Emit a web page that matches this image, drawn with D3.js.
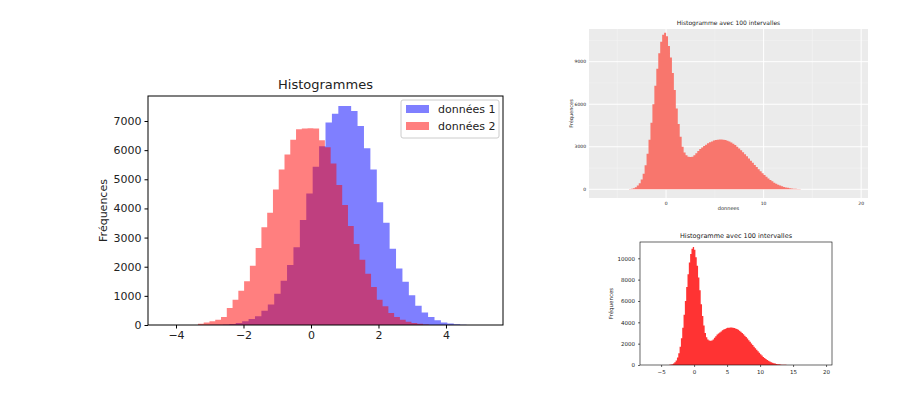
<!DOCTYPE html>
<html>
<head>
<meta charset="utf-8">
<script src="https://cdn.jsdelivr.net/npm/d3@7"></script>
<style>
  body { margin: 0; background: #fff; }
  text { font-family: "DejaVu Sans", sans-serif; fill: #222; }
</style>
</head>
<body>
<div id="chart"></div>
<script>
// Main chart: two overlapping histograms (40 bins each)
const data1Start = -2.99;
const data1Width = 0.19;
const data1Counts = [5, 10, 20, 35, 70, 125, 205, 300, 490, 705,
                     1070, 1515, 2060, 2670, 3600, 4515, 5430, 6130, 6950, 7250,
                     7515, 7515, 7340, 6830, 6065, 5335, 4210, 3510, 2620, 1940,
                     1480, 1025, 660, 430, 275, 160, 90, 50, 25, 5];

const data2Start = -3.35;
const data2Width = 0.171;
const data2Counts = [40, 90, 125, 180, 275, 580, 870, 1175, 1500, 2030,
                     2645, 3350, 3855, 4650, 5335, 5850, 6360, 6715, 6740, 6750,
                     6740, 6340, 6100, 5540, 4800, 4115, 3400, 2780, 2235, 1755,
                     1300, 865, 640, 410, 275, 180, 115, 70, 40, 20];

const mainTicksX = [-4, -2, 0, 2, 4];
const mainTicksY = [0, 1000, 2000, 3000, 4000, 5000, 6000, 7000];
const legendLabels = ["données 1", "données 2"];

// Right charts: same data, 100 bins
const mixStart = -4;
const mixWidth = 0.2;
const mixCounts = [10, 20, 40, 80, 150, 260, 420, 700, 1100, 1700,
                   2500, 3500, 4700, 6000, 7300, 8500, 9600, 10400, 10900, 11050,
                   10800, 10100, 9300, 8200, 7000, 5700, 4600, 3700, 3000, 2600,
                   2400, 2300, 2280, 2300, 2400, 2550, 2700, 2850, 2950, 3050,
                   3150, 3250, 3320, 3380, 3440, 3480, 3500, 3520, 3520, 3500,
                   3470, 3430, 3380, 3300, 3220, 3120, 3000, 2880, 2750, 2620,
                   2480, 2330, 2180, 2020, 1870, 1720, 1570, 1420, 1280, 1140,
                   1000, 880, 760, 650, 560, 470, 390, 320, 260, 210,
                   170, 135, 105, 80, 60, 45, 35, 25, 18, 12,
                   9, 6, 4, 3, 2, 1, 1, 1, 0, 0];

const ggTicksX = [0, 10, 20];
const ggTicksY = [0, 3000, 6000, 9000];
const mplTicksX = [-5, 0, 5, 10, 15, 20];
const mplTicksY = [0, 2000, 4000, 6000, 8000, 10000];

// step points for a histogram outline (last bin closed)
const toSteps = (start, width, counts) =>
  counts.map((c, i) => ({ x: start + i * width, c })).concat([{ x: start + counts.length * width, c: 0 }]);

const histPath = (g, x, y, start, width, counts, fill) => {
  const area = d3.area().curve(d3.curveStepAfter)
    .x(d => x(d.x)).y0(y(0)).y1(d => y(d.c));
  g.append("path").datum(toSteps(start, width, counts)).attr("d", area).attr("fill", fill);
};

const minus = d => d < 0 ? "\u2212" + (-d) : String(d);

const svg = d3.select("#chart").append("svg").attr("width", 900).attr("height", 400);

const drawMain = () => {
  const left = 148, right = 503, top = 96, bottom = 325;
  const x = d3.scaleLinear().domain([-4.83, 5.69]).range([left, right]);
  const y = d3.scaleLinear().domain([0, 7000]).range([bottom, 121]);
  const g = svg.append("g");

  histPath(g, x, y, data1Start, data1Width, data1Counts, "rgba(0,0,255,0.5)");
  histPath(g, x, y, data2Start, data2Width, data2Counts, "rgba(255,0,0,0.5)");

  g.append("rect").attr("x", left).attr("y", top).attr("width", right - left).attr("height", bottom - top)
    .attr("fill", "none").attr("stroke", "#000").attr("stroke-width", 1);

  const ax = g.append("g").attr("transform", `translate(0,${bottom})`)
    .call(d3.axisBottom(x).tickValues(mainTicksX).tickSize(3.5).tickFormat(minus));
  const ay = g.append("g").attr("transform", `translate(${left},0)`)
    .call(d3.axisLeft(y).tickValues(mainTicksY).tickSize(3.5).tickFormat(d3.format("d")));
  [ax, ay].forEach(a => {
    a.select(".domain").remove();
    a.selectAll("text").attr("font-size", 11).attr("font-family", "DejaVu Sans").attr("fill", "#222");
  });

  g.append("text").attr("x", (left + right) / 2).attr("y", 89).attr("text-anchor", "middle")
    .attr("font-size", 13).text("Histogrammes");
  g.append("text").attr("transform", `translate(107,${(top + bottom) / 2}) rotate(-90)`)
    .attr("text-anchor", "middle").attr("font-size", 11).text("Fréquences");

  const lg = g.append("g").attr("transform", "translate(401,100)");
  lg.append("rect").attr("width", 98).attr("height", 38).attr("rx", 2)
    .attr("fill", "#fff").attr("fill-opacity", 0.8).attr("stroke", "#ccc");
  ["rgba(0,0,255,0.5)", "rgba(255,0,0,0.5)"].forEach((c, i) => {
    lg.append("rect").attr("x", 5).attr("y", 5 + i * 17).attr("width", 23).attr("height", 8).attr("fill", c);
    lg.append("text").attr("x", 37).attr("y", 13 + i * 17).attr("font-size", 11).text(legendLabels[i]);
  });
};

const drawGg = () => {
  const left = 589, right = 868, top = 29, bottom = 198;
  const x = d3.scaleLinear().domain([-7.9, 20.7]).range([left, right]);
  const y = d3.scaleLinear().domain([0, 9000]).range([189.3, 61.7]);
  const g = svg.append("g");
  g.append("rect").attr("x", left).attr("y", top).attr("width", right - left).attr("height", bottom - top).attr("fill", "#ebebeb");
  const minorX = [-5, 5, 15], minorY = [1500, 4500, 7500, 10500];
  g.selectAll(null).data(minorX).enter().append("line")
    .attr("x1", d => x(d)).attr("x2", d => x(d)).attr("y1", top).attr("y2", bottom).attr("stroke", "#f5f5f5").attr("stroke-width", 0.5);
  g.selectAll(null).data(minorY).enter().append("line")
    .attr("y1", d => y(d)).attr("y2", d => y(d)).attr("x1", left).attr("x2", right).attr("stroke", "#f5f5f5").attr("stroke-width", 0.5);
  g.selectAll(null).data(ggTicksX).enter().append("line")
    .attr("x1", d => x(d)).attr("x2", d => x(d)).attr("y1", top).attr("y2", bottom).attr("stroke", "#fff").attr("stroke-width", 1);
  g.selectAll(null).data(ggTicksY).enter().append("line")
    .attr("y1", d => y(d)).attr("y2", d => y(d)).attr("x1", left).attr("x2", right).attr("stroke", "#fff").attr("stroke-width", 1);

  histPath(g, x, y, mixStart, mixWidth, mixCounts, "#f8766d");

  g.selectAll(null).data(ggTicksX).enter().append("text")
    .attr("x", d => x(d)).attr("y", bottom + 7).attr("text-anchor", "middle").attr("font-size", 4.5).attr("fill", "#555").text(d => d);
  g.selectAll(null).data(ggTicksY).enter().append("text")
    .attr("x", left - 3).attr("y", d => y(d) + 1.5).attr("text-anchor", "end").attr("font-size", 4.5).attr("fill", "#555").text(d => d);
  g.append("text").attr("x", (left + right) / 2).attr("y", 25).attr("text-anchor", "middle").attr("font-size", 6)
    .text("Histogramme avec 100 intervalles");
  g.append("text").attr("x", (left + right) / 2).attr("y", 210).attr("text-anchor", "middle").attr("font-size", 5).text("donnees");
  g.append("text").attr("transform", `translate(573,${(top + bottom) / 2}) rotate(-90)`)
    .attr("text-anchor", "middle").attr("font-size", 5).text("Fréquences");
};

const drawMpl = () => {
  const left = 640, right = 832, top = 242, bottom = 365;
  const x = d3.scaleLinear().domain([-8.2, 20.9]).range([left, right]);
  const y = d3.scaleLinear().domain([0, 10000]).range([bottom, 258.3]);
  const g = svg.append("g");
  histPath(g, x, y, mixStart, mixWidth, mixCounts, "rgba(255,0,0,0.8)");
  g.append("rect").attr("x", left).attr("y", top).attr("width", right - left).attr("height", bottom - top)
    .attr("fill", "none").attr("stroke", "#000").attr("stroke-width", 0.6);
  const ax = g.append("g").attr("transform", `translate(0,${bottom})`)
    .call(d3.axisBottom(x).tickValues(mplTicksX).tickSize(2).tickFormat(minus));
  const ay = g.append("g").attr("transform", `translate(${left},0)`)
    .call(d3.axisLeft(y).tickValues(mplTicksY).tickSize(2).tickFormat(d3.format("d")));
  [ax, ay].forEach(a => {
    a.select(".domain").remove();
    a.selectAll("line").attr("stroke-width", 0.6);
    a.selectAll("text").attr("font-size", 5.5).attr("font-family", "DejaVu Sans").attr("fill", "#222");
  });
  g.append("text").attr("x", (left + right) / 2).attr("y", 238).attr("text-anchor", "middle").attr("font-size", 6.5)
    .text("Histogramme avec 100 intervalles");
  g.append("text").attr("transform", `translate(613,${(top + bottom) / 2}) rotate(-90)`)
    .attr("text-anchor", "middle").attr("font-size", 5.5).text("Fréquences");
};

drawMain();
drawGg();
drawMpl();
</script>
</body>
</html>
